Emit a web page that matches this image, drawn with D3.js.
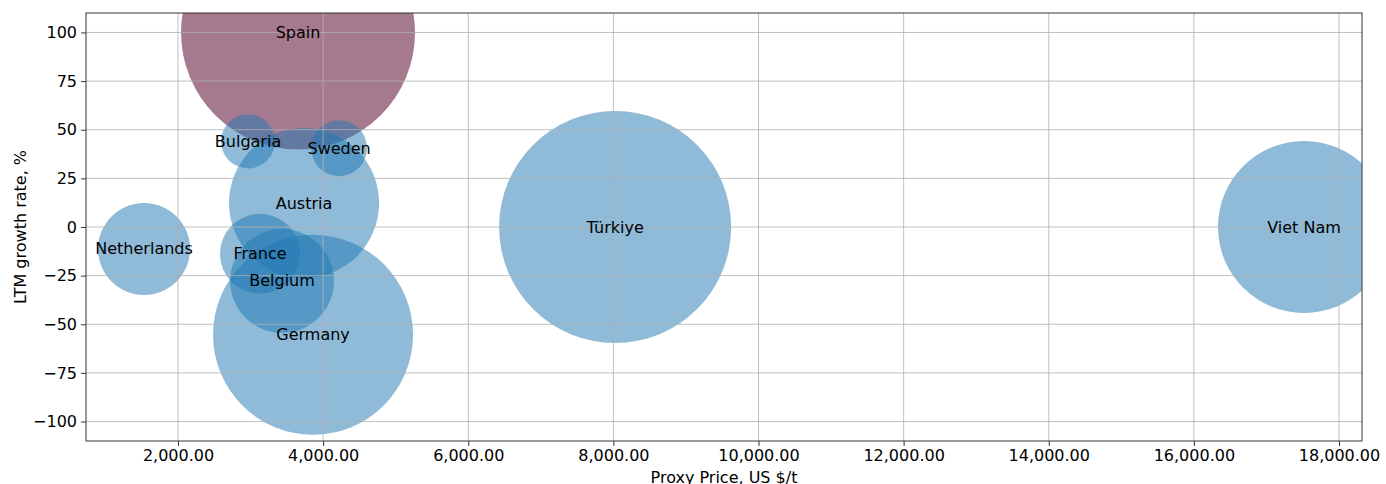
<!DOCTYPE html>
<html>
<head>
<meta charset="UTF-8">
<title>Proxy price vs LTM growth</title>
<script src="https://d3js.org/d3.v7.min.js"></script>
<style>
  body { margin: 0; background: #fff; }
  text { font-family: "DejaVu Sans", sans-serif; }
  .grid line { stroke: #b0b0b0; stroke-width: 0.8; }
  .tick text { font-size: 16px; fill: #000; }
  .tick line { stroke: #000; }
</style>
</head>
<body>
<svg width="1386" height="484"></svg>
<script>
// data
var countries = ["Spain", "Bulgaria", "Sweden", "Austria", "Netherlands", "France", "Belgium", "Germany", "Türkiye", "Viet Nam"]
var prices    = [3654, 2965, 4220, 3737, 1532, 3130, 3434, 3861, 8024, 17518]
var growth    = [100, 44, 40.5, 12.3, -11.3, -13.8, -27.7, -55.4, 0, 0]
var sizes     = [1369, 73, 78, 563, 212, 160, 270, 1000, 1346, 740]
var colors    = ["#6a2143", "#1f77b4", "#1f77b4", "#1f77b4", "#1f77b4", "#1f77b4", "#1f77b4", "#1f77b4", "#1f77b4", "#1f77b4"]
var xTicks = [2000, 4000, 6000, 8000, 10000, 12000, 14000, 16000, 18000]
var yTicks = [-100, -75, -50, -25, 0, 25, 50, 75, 100]

var svg = d3.select("svg")
// plot box (window.top is reserved, so pTop etc.)
var pLeft = 86, pRight = 1362, pTop = 13, pBottom = 441

var x = d3.scaleLinear().domain([732, 18317]).range([pLeft, pRight])
var y = d3.scaleLinear().domain([-110, 110]).range([pBottom, pTop])
var r = d3.scaleSqrt().domain([0, 1369]).range([0, 117])

svg.append("clipPath").attr("id", "plot")
  .append("rect")
  .attr("x", pLeft).attr("y", pTop)
  .attr("width", pRight - pLeft).attr("height", pBottom - pTop)

var data = countries.map(function(c, i) {
  return { name: c, x: prices[i], y: growth[i], s: sizes[i], color: colors[i] }
})

// bubbles
svg.append("g")
  .attr("clip-path", "url(#plot)")
  .selectAll("circle")
  .data(data)
  .enter().append("circle")
  .attr("cx", function(d) { return x(d.x) })
  .attr("cy", function(d) { return y(d.y) })
  .attr("r", function(d) { return r(d.s) })
  .attr("fill", function(d) { return d.color })
  .attr("fill-opacity", function(d) { return d.name == "Spain" ? 0.6 : 0.5 })

// grid on top of bubbles, like matplotlib
var grid = svg.append("g").attr("class", "grid")
grid.selectAll(".gx").data(xTicks).enter().append("line")
  .attr("x1", function(d) { return x(d) }).attr("x2", function(d) { return x(d) })
  .attr("y1", pTop).attr("y2", pBottom)
grid.selectAll(".gy").data(yTicks).enter().append("line")
  .attr("x1", pLeft).attr("x2", pRight)
  .attr("y1", function(d) { return y(d) }).attr("y2", function(d) { return y(d) })

var fmt = d3.format(",.2f")

svg.append("g")
  .attr("transform", "translate(0," + pBottom + ")")
  .call(d3.axisBottom(x).tickValues(xTicks).tickFormat(fmt).tickSize(5).tickPadding(4))
  .call(function(g) { g.select(".domain").remove() })

svg.append("g")
  .attr("transform", "translate(" + pLeft + ",0)")
  .call(d3.axisLeft(y).tickValues(yTicks).tickFormat(function(d) { return d < 0 ? "\u2212" + (-d) : d }).tickSize(5).tickPadding(4))
  .call(function(g) { g.select(".domain").remove() })

svg.selectAll(".tick line").attr("stroke-width", 0.8)

// frame
svg.append("rect")
  .attr("x", pLeft).attr("y", pTop)
  .attr("width", pRight - pLeft).attr("height", pBottom - pTop)
  .attr("fill", "none").attr("stroke", "#333").attr("stroke-width", 1)

// labels
svg.append("g").selectAll("text")
  .data(data)
  .enter().append("text")
  .attr("x", function(d) { return x(d.x) })
  .attr("y", function(d) { return y(d.y) })
  .attr("text-anchor", "middle")
  .attr("dominant-baseline", "central")
  .attr("font-size", "16px")
  .text(function(d) { return d.name })

svg.append("text")
  .attr("x", (pLeft + pRight) / 2).attr("y", 483)
  .attr("text-anchor", "middle").attr("font-size", "16px")
  .text("Proxy Price, US $/t")

svg.append("text")
  .attr("transform", "translate(26," + (pTop + pBottom) / 2 + ") rotate(-90)")
  .attr("text-anchor", "middle").attr("font-size", "16px")
  .text("LTM growth rate, %")
</script>
</body>
</html>
